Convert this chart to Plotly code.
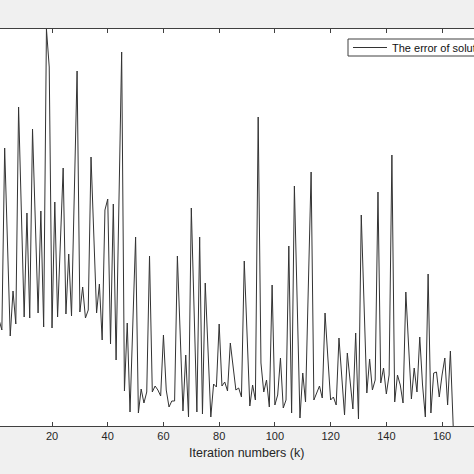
import plotly.graph_objects as go

# Iteration numbers k (the crop shows k = 1 .. 164)
iterations = list(range(1, 165))

# Error of solution per iteration (arbitrary units; y tick labels are cropped out)
error_values = [
    106, 96, 278, 184, 90, 135, 102, 319, 211, 109,
    213, 108, 297, 206, 113, 215, 99, 397, 359, 98,
    224, 109, 183, 258, 112, 172, 110, 231, 355, 114,
    139, 108, 116, 269, 186, 113, 142, 86, 216, 227,
    82, 222, 66, 220, 374, 35, 103, 14, 101, 189,
    13, 37, 23, 34, 170, 34, 40, 36, 30, 91,
    36, 19, 25, 25, 170, 93, 15, 71, 9, 218,
    116, 14, 189, 12, 143, 76, 9, 42, 39, 102,
    40, 44, 35, 83, 60, 36, 38, 29, 165, 93,
    20, 41, 26, 309, 63, 34, 46, 19, 141, 21,
    31, 68, 18, 26, 180, 13, 240, 124, 8, 53,
    24, 139, 254, 26, 33, 40, 28, 113, 69, 26,
    29, 21, 88, 48, 11, 73, 43, 17, 93, 7,
    211, 122, 33, 67, 36, 46, 234, 43, 58, 32,
    51, 271, 24, 51, 41, 23, 134, 80, 27, 58,
    34, 89, 41, 9, 152, 13, 53, 54, 29, 51,
    68, 21, 75, 0,
]

x_ticks = [20, 40, 60, 80, 100, 120, 140, 160]
series_name = "The error of solution"
x_title = "Iteration numbers (k)"

FONT = "Liberation Sans, Arial, Helvetica, sans-serif"
AX = "#404040"
LINE = "#333333"

# plot area in pixels: top 29, bottom 426 (height 397)
def py(p):
    return (426 - p) / 397

fig = go.Figure()
fig.add_trace(go.Scatter(
    x=iterations, y=error_values, mode="lines", name=series_name,
    line=dict(color=LINE, width=1), showlegend=False,
))

fig.update_layout(
    width=474, height=474,
    paper_bgcolor="#f0f0f0", plot_bgcolor="white",
    margin=dict(l=0, r=0, t=29, b=48, autoexpand=False),
    font=dict(family=FONT, size=11, color="#262626"),
    showlegend=False,
    xaxis=dict(
        range=[1.328, 171.47], tickvals=x_ticks,
        ticks="inside", ticklen=4, tickcolor=AX,
        showline=True, linecolor=AX, linewidth=1, mirror="ticks",
        showgrid=False, zeroline=False,
        tickfont=dict(size=11, color="#262626"),
    ),
    yaxis=dict(
        range=[0, 397], showticklabels=False, ticks="",
        showline=False, showgrid=False, zeroline=False,
    ),
    shapes=[
        # legend box (MATLAB-style, runs off the right edge of the crop)
        dict(type="rect", xref="paper", yref="paper",
             x0=348 / 474, x1=1.25, y0=py(56), y1=py(39),
             fillcolor="white", line=dict(color=AX, width=1), layer="above"),
        # legend sample line
        dict(type="line", xref="paper", yref="paper",
             x0=353 / 474, x1=387 / 474, y0=py(47.5), y1=py(47.5),
             line=dict(color=LINE, width=1), layer="above"),
    ],
    annotations=[
        dict(text=series_name, xref="paper", yref="paper",
             x=390 / 474, y=py(47.5), xanchor="left", yanchor="middle",
             showarrow=False, font=dict(family=FONT, size=11, color="#111111")),
        dict(text=x_title, xref="paper", yref="paper",
             x=247 / 474, y=py(453), xanchor="center", yanchor="middle",
             showarrow=False, font=dict(family=FONT, size=12.5, color="#262626")),
    ],
)

fig.write_html("out.html")
